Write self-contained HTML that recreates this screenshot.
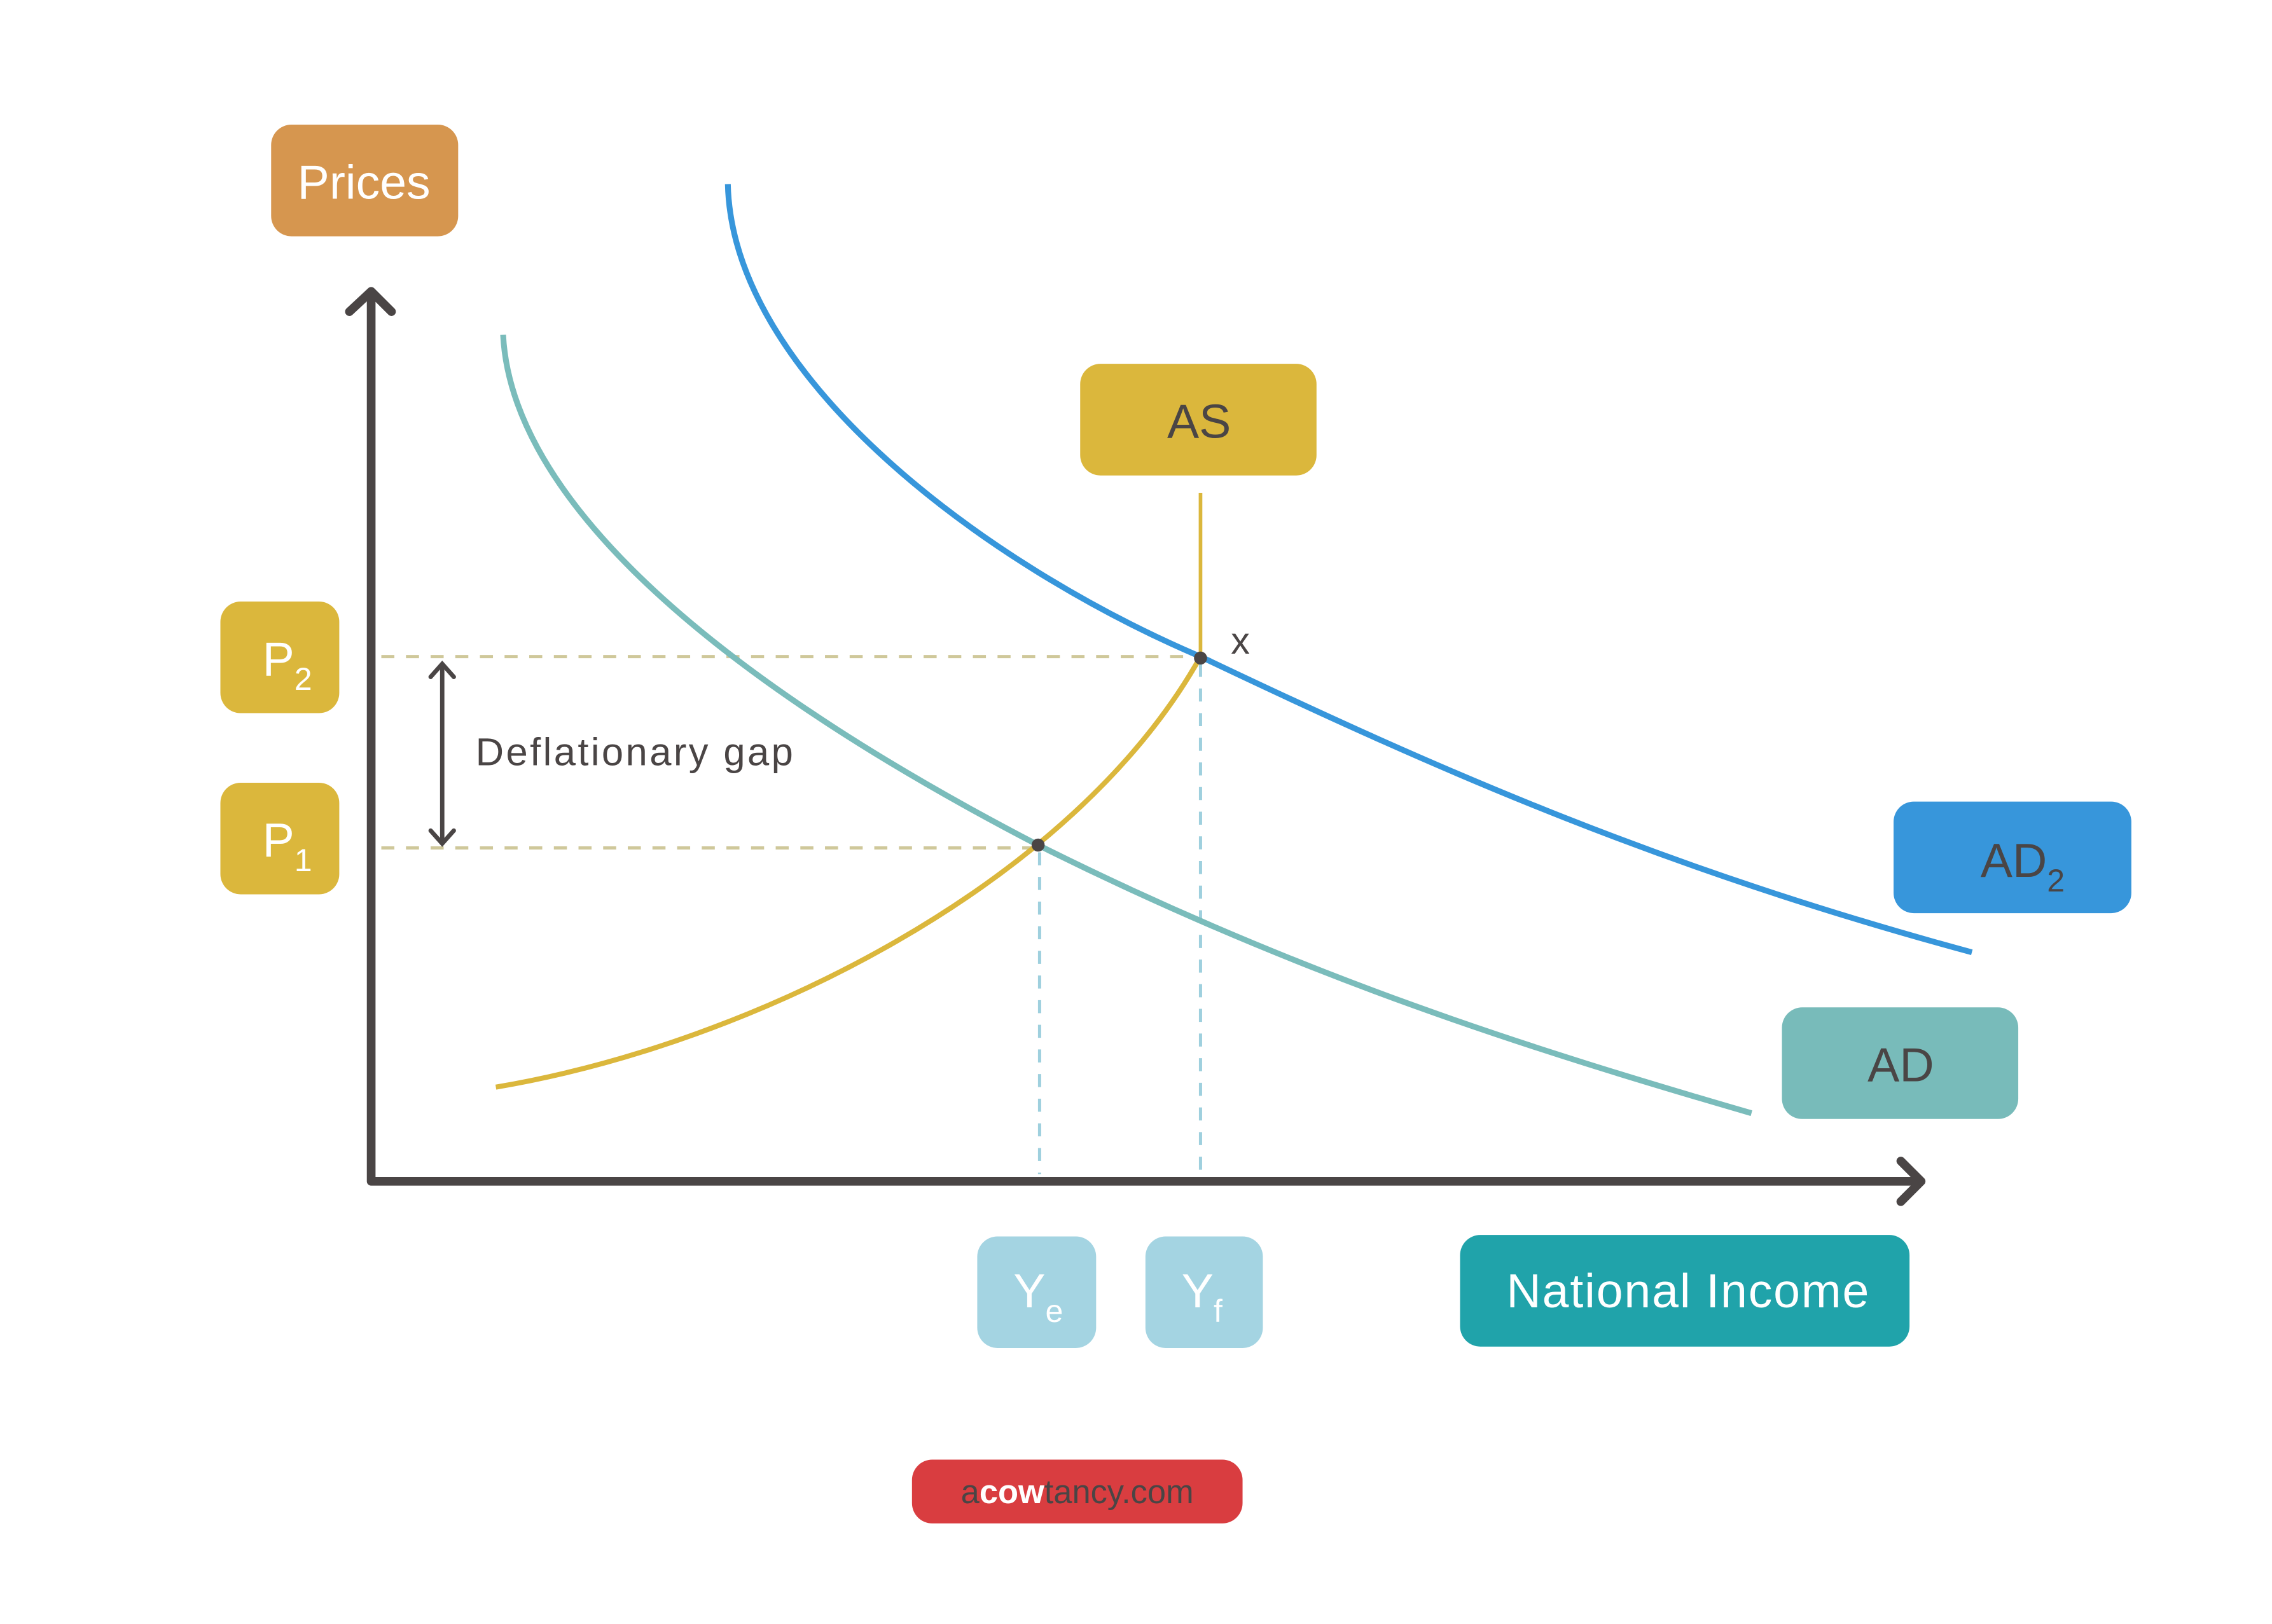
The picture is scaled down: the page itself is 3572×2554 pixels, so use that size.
<!DOCTYPE html>
<html><head><meta charset="utf-8"><style>html,body{margin:0;padding:0;background:#fff}svg{display:block}</style></head>
<body>
<svg width="3572" height="2554" viewBox="0 0 1567 1120.4" preserveAspectRatio="none" xmlns="http://www.w3.org/2000/svg" font-family="Liberation Sans, DejaVu Sans, sans-serif">
<rect width="1567" height="1121" fill="#fff"/>
<g stroke="#cfc89a" stroke-width="2.2" stroke-dasharray="9,8">
<line x1="263" y1="453" x2="826" y2="453"/>
<line x1="263" y1="585" x2="714" y2="585"/>
</g>
<g stroke="#9fd0de" stroke-width="2.2" stroke-dasharray="9,8">
<line x1="717" y1="588" x2="717" y2="810"/>
<line x1="828" y1="458" x2="828" y2="810"/>
</g>
<path d="M347,231 C352,330 460,450 716,583 C900,675 1060,725 1208,768" fill="none" stroke="#7abcbb" stroke-width="4"/>
<path d="M502,127 C505,260 680,390 828,453 C1000,535 1150,600 1360,657" fill="none" stroke="#3796db" stroke-width="4"/>
<path d="M342,750 C520,720 740,610 828,453" fill="none" stroke="#dbb73c" stroke-width="3.5"/>
<line x1="828" y1="340" x2="828" y2="453" stroke="#dbb73c" stroke-width="2.5"/>
<circle cx="716" cy="583" r="4.5" fill="#4a4545"/>
<circle cx="828" cy="454" r="4.5" fill="#4a4545"/>
<text x="849" y="451" font-size="26" fill="#4a4545">x</text>
<g stroke="#4a4545" stroke-width="6" fill="none" stroke-linecap="round" stroke-linejoin="round">
<polyline points="256,205 256,815 1322,815"/>
<polyline points="241,215 256,201 270,215"/>
<polyline points="1311,801 1325,815 1311,829"/>
</g>
<g stroke="#4a4545" stroke-width="3" fill="none" stroke-linecap="round">
<line x1="305" y1="459" x2="305" y2="581"/>
<polyline points="297,467 305,458 313,467"/>
<polyline points="297,573 305,582 313,573"/>
</g>
<text x="328" y="528" font-size="27" fill="#4a4545" textLength="219" lengthAdjust="spacing">Deflationary gap</text>
<rect x="187" y="86" width="129" height="77" rx="14" fill="#d6964f"/>
<text x="251" y="137" font-size="33" fill="#fff" text-anchor="middle">Prices</text>
<rect x="745" y="251" width="163" height="77" rx="14" fill="#dbb73c"/>
<text x="827" y="302" font-size="33" fill="#4a4545" text-anchor="middle">AS</text>
<rect x="152" y="415" width="82" height="77" rx="14" fill="#dbb73c"/>
<text x="181" y="466" font-size="33" fill="#fff">P<tspan font-size="22" dy="10">2</tspan></text>
<rect x="152" y="540" width="82" height="77" rx="14" fill="#dbb73c"/>
<text x="181" y="591" font-size="33" fill="#fff">P<tspan font-size="22" dy="10">1</tspan></text>
<rect x="1306" y="553" width="164" height="77" rx="14" fill="#3796db"/>
<text x="1366" y="605" font-size="33" fill="#4a4545">AD<tspan font-size="22" dy="10">2</tspan></text>
<rect x="1229" y="695" width="163" height="77" rx="14" fill="#78bbba"/>
<text x="1311" y="746" font-size="33" fill="#4a4545" text-anchor="middle">AD</text>
<rect x="674" y="853" width="82" height="77" rx="14" fill="#a4d4e2"/>
<text x="699" y="902" font-size="33" fill="#fff">Y<tspan font-size="22" dy="10">e</tspan></text>
<rect x="790" y="853" width="81" height="77" rx="14" fill="#a4d4e2"/>
<text x="815" y="902" font-size="33" fill="#fff">Y<tspan font-size="22" dy="10">f</tspan></text>
<rect x="1007" y="852" width="310" height="77" rx="14" fill="#20a3aa"/>
<text x="1164" y="902" font-size="33" fill="#fff" text-anchor="middle" textLength="250" lengthAdjust="spacing">National Income</text>
<rect x="629" y="1007" width="228" height="44" rx="14" fill="#d93d40"/>
<text x="743" y="1037" font-size="23" fill="#4a4545" text-anchor="middle">a<tspan fill="#fff" font-weight="bold">cow</tspan>tancy.com</text>
</svg>
</body></html>
